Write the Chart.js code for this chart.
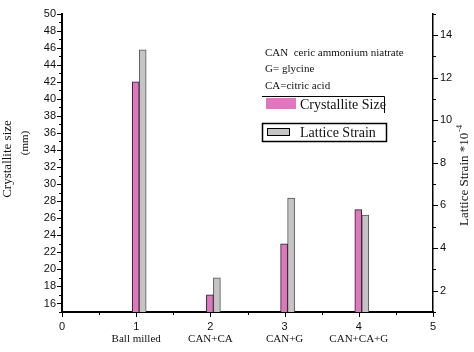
<!DOCTYPE html>
<html><head><meta charset="utf-8">
<script src="https://cdn.jsdelivr.net/npm/chart.js@4"></script>
<style>html,body{margin:0;padding:0;background:#fff}#wrap{width:474px;height:352px}</style>
</head><body><div id="wrap"><canvas id="c" width="474" height="352"></canvas></div>
<script>
// ---- data ----
const categories = ['Ball milled', 'CAN+CA', 'CAN+G', 'CAN+CA+G'];
const categoryPositions = [1, 2, 3, 4];
const crystalliteSize = [42, 17, 23, 27];        // nm, left axis
const latticeStrain = [13.3, 2.6, 6.35, 5.55];    // *10^-4, right axis
const seriesNames = ['Crystallite Size', 'Lattice Strain'];
const notes = ['CAN  ceric ammonium niatrate', 'G= glycine', 'CA=citric acid'];
const xTickValues = [0, 1, 2, 3, 4, 5];
const leftTickValues = [16, 18, 20, 22, 24, 26, 28, 30, 32, 34, 36, 38, 40, 42, 44, 46, 48, 50];
const rightTickValues = [2, 4, 6, 8, 10, 12, 14];
const leftTitle = ['Crystallite size', '(mm)'];
const rightTitle = ['Lattice Strain *10', '-4'];

const SANS = '"Liberation Sans", Arial, sans-serif';
const SERIF = '"Liberation Serif", "Times New Roman", serif';

const barShift = {
  id: 'barShift',
  beforeDatasetsDraw(chart) { chart.ctx.save(); chart.ctx.translate(3, 0); },
  afterDatasetsDraw(chart) { chart.ctx.restore(); }
};

const overlay = {
  id: 'overlay',
  afterDraw(chart) {
    const ctx = chart.ctx;
    const xs = chart.scales.x, yl = chart.scales.y, yr = chart.scales.y2;
    const a = chart.chartArea;
    ctx.save();
    ctx.strokeStyle = '#000';
    ctx.lineWidth = 1;
    for (let v = Math.ceil(yl.min); v <= yl.max; v++) {
      const y = Math.round(yl.getPixelForValue(v)) + 0.5;
      const len = (v % 2 === 0) ? 5 : 3;
      ctx.beginPath(); ctx.moveTo(a.left - len, y); ctx.lineTo(a.left, y); ctx.stroke();
    }
    for (let v = Math.ceil(yr.min); v <= yr.max; v++) {
      const y = Math.round(yr.getPixelForValue(v)) + 0.5;
      const len = (v % 2 === 0) ? 5 : 3;
      ctx.beginPath(); ctx.moveTo(a.right, y); ctx.lineTo(a.right + len, y); ctx.stroke();
    }
    for (let v = xs.min; v <= xs.max + 1e-9; v += 0.5) {
      const x = Math.round(xs.getPixelForValue(v)) + 0.5;
      const len = (Math.abs(v - Math.round(v)) < 1e-9) ? 5 : 3;
      ctx.beginPath(); ctx.moveTo(x, a.bottom); ctx.lineTo(x, a.bottom + len); ctx.stroke();
    }
    ctx.fillStyle = '#111';
    ctx.font = '11px ' + SERIF;
    ctx.textAlign = 'center'; ctx.textBaseline = 'middle';
    categories.forEach((c, i) => {
      ctx.fillText(c, xs.getPixelForValue(categoryPositions[i]), 339);
    });
    ctx.save();
    ctx.translate(8, 159); ctx.rotate(-Math.PI / 2);
    ctx.font = '13px ' + SERIF; ctx.fillText(leftTitle[0], 0, 0);
    ctx.restore();
    ctx.save();
    ctx.translate(25, 143); ctx.rotate(-Math.PI / 2);
    ctx.font = '11px ' + SERIF; ctx.fillText(leftTitle[1], 0, 0);
    ctx.restore();
    ctx.save();
    ctx.translate(465, 176); ctx.rotate(-Math.PI / 2);
    ctx.font = '13px ' + SERIF;
    const w1 = ctx.measureText(rightTitle[0]).width;
    ctx.font = '8px ' + SERIF;
    const w2 = ctx.measureText(rightTitle[1]).width;
    const start = -(w1 + w2) / 2;
    ctx.textAlign = 'left';
    ctx.font = '13px ' + SERIF;
    ctx.fillText(rightTitle[0], start, 0);
    ctx.font = '8px ' + SERIF;
    ctx.fillText(rightTitle[1], start + w1 + 1, -5);
    ctx.restore();
    ctx.font = '11px ' + SERIF; ctx.textAlign = 'left';
    const noteY = [53, 69, 86];
    notes.forEach((n, i) => ctx.fillText(n, 265, noteY[i]));
    const ds = chart.data.datasets;
    ctx.lineWidth = 1;
    ctx.strokeStyle = '#000';
    ctx.beginPath(); ctx.moveTo(262, 96.5); ctx.lineTo(384.5, 96.5); ctx.lineTo(384.5, 113); ctx.stroke();
    ctx.fillStyle = ds[0].backgroundColor;
    ctx.fillRect(266, 98, 30, 11);
    ctx.fillStyle = '#111';
    ctx.font = '14px ' + SERIF;
    ctx.fillText(ds[0].label, 300, 105);
    ctx.lineWidth = 1.5;
    ctx.strokeRect(262.5, 123.5, 124, 18);
    ctx.fillStyle = ds[1].backgroundColor;
    ctx.fillRect(267, 128, 23, 8);
    ctx.lineWidth = 1;
    ctx.strokeRect(267.5, 128.5, 22, 7);
    ctx.fillStyle = '#111';
    ctx.fillText(ds[1].label, 300, 133);
    ctx.restore();
  }
};

new Chart(document.getElementById('c'), {
  type: 'bar',
  data: {
    datasets: [
      {
        label: seriesNames[0],
        data: categoryPositions.map((x, i) => ({ x: x, y: crystalliteSize[i] })),
        yAxisID: 'y',
        backgroundColor: '#e076bf',
        borderColor: '#222',
        borderWidth: 1,
        barThickness: 7
      },
      {
        label: seriesNames[1],
        data: categoryPositions.map((x, i) => ({ x: x, y: latticeStrain[i] })),
        yAxisID: 'y2',
        backgroundColor: '#c4c4c4',
        borderColor: '#555',
        borderWidth: 1,
        barThickness: 7
      }
    ]
  },
  options: {
    responsive: false,
    animation: false,
    devicePixelRatio: 1,
    layout: { padding: { top: 10, left: 0, right: 0, bottom: 0 } },
    plugins: { legend: { display: false }, tooltip: { enabled: false } },
    scales: {
      x: {
        type: 'linear', min: 0, max: 5, offset: false,
        afterBuildTicks: s => { s.ticks = xTickValues.map(v => ({ value: v })); },
        afterFit: s => { s.height = 40; },
        ticks: { font: { family: SANS, size: 11 }, color: '#111', padding: 8, maxRotation: 0, autoSkip: false },
        grid: { display: true, drawOnChartArea: false, drawTicks: false, offset: false },
        border: { display: true, color: '#000', width: 2 }
      },
      y: {
        type: 'linear', position: 'left', min: 15, max: 50,
        afterBuildTicks: s => { s.ticks = leftTickValues.map(v => ({ value: v })); },
        afterFit: s => { s.width = 62; },
        ticks: { font: { family: SANS, size: 11 }, color: '#111', padding: 6, autoSkip: false },
        grid: { display: true, drawOnChartArea: false, drawTicks: false },
        border: { display: true, color: '#000', width: 2 }
      },
      y2: {
        type: 'linear', position: 'right', min: 1, max: 15,
        afterBuildTicks: s => { s.ticks = rightTickValues.map(v => ({ value: v })); },
        afterFit: s => { s.width = 41; },
        ticks: { font: { family: SANS, size: 11 }, color: '#111', padding: 7, autoSkip: false },
        grid: { display: true, drawOnChartArea: false, drawTicks: false },
        border: { display: true, color: '#000', width: 1.5 }
      }
    }
  },
  plugins: [barShift, overlay]
});
</script>
</body></html>
